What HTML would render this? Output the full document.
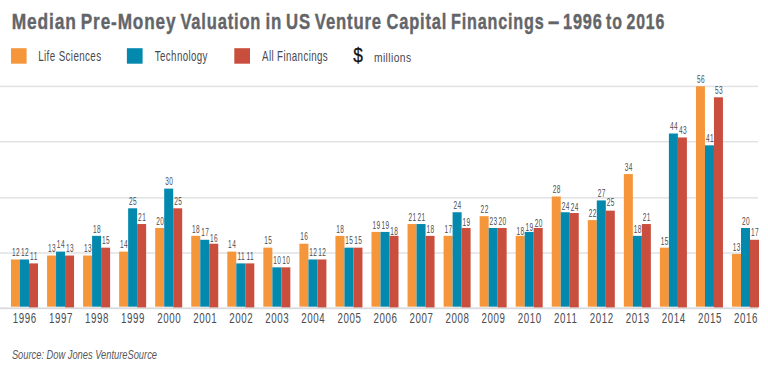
<!DOCTYPE html>
<html><head><meta charset="utf-8"><style>
html,body{margin:0;padding:0;background:#fff;width:768px;height:373px;overflow:hidden}
svg{display:block}
text{font-family:"Liberation Sans",sans-serif}
</style></head><body>
<svg width="768" height="373" viewBox="0 0 768 373">
<g font-weight="bold" fill="#636569" stroke="#636569" stroke-width="0.4" letter-spacing="1.115">
<text x="11.68" y="29.3" font-size="22.3" textLength="65.11" lengthAdjust="spacingAndGlyphs">Median</text>
<text x="80.80" y="29.3" font-size="22.3" textLength="95.57" lengthAdjust="spacingAndGlyphs">Pre-Money</text>
<text x="180.43" y="29.3" font-size="22.3" textLength="80.87" lengthAdjust="spacingAndGlyphs">Valuation</text>
<text x="265.42" y="29.3" font-size="22.3" textLength="16.72" lengthAdjust="spacingAndGlyphs">in</text>
<text x="286.10" y="29.3" font-size="22.3" textLength="24.89" lengthAdjust="spacingAndGlyphs">US</text>
<text x="314.83" y="29.3" font-size="22.3" textLength="67.14" lengthAdjust="spacingAndGlyphs">Venture</text>
<text x="386.44" y="29.3" font-size="22.3" textLength="60.65" lengthAdjust="spacingAndGlyphs">Capital</text>
<text x="451.07" y="29.3" font-size="22.3" textLength="93.46" lengthAdjust="spacingAndGlyphs">Financings</text>
<text x="547.89" y="29.3" font-size="22.3" textLength="12.25" lengthAdjust="spacingAndGlyphs">–</text>
<text x="563.02" y="29.3" font-size="22.3" textLength="39.56" lengthAdjust="spacingAndGlyphs">1996</text>
<text x="606.04" y="29.3" font-size="22.3" textLength="16.66" lengthAdjust="spacingAndGlyphs">to</text>
<text x="626.62" y="29.3" font-size="22.3" textLength="38.42" lengthAdjust="spacingAndGlyphs">2016</text>
</g>
<rect x="11" y="48.2" width="15.6" height="15.5" fill="#f6963b"/>
<rect x="126.9" y="48.2" width="15.7" height="15.5" fill="#0388ae"/>
<rect x="234.3" y="48.2" width="15.7" height="15.5" fill="#ca4e3e"/>
<g fill="#46494f" letter-spacing="0.556"><text x="38.22" y="61" font-size="13.9" textLength="63.24" lengthAdjust="spacingAndGlyphs">Life Sciences</text></g>
<g fill="#46494f" letter-spacing="0.556"><text x="154.81" y="60.8" font-size="13.9" textLength="53.08" lengthAdjust="spacingAndGlyphs">Technology</text></g>
<g fill="#46494f" letter-spacing="0.556"><text x="262.00" y="60.8" font-size="13.9" textLength="66.13" lengthAdjust="spacingAndGlyphs">All Financings</text></g>
<g fill="#46494f" letter-spacing="0.516"><text x="373.98" y="62.2" font-size="12.9" textLength="37.48" lengthAdjust="spacingAndGlyphs">millions</text></g>
<text x="353.33" y="62.4" font-size="20.5" textLength="9.66" lengthAdjust="spacingAndGlyphs" fill="#111" stroke="#111" stroke-width="0.3">$</text>
<rect x="0" y="85.65" width="758" height="1.5" fill="#e1e2e4"/>
<rect x="0" y="140.95" width="758" height="1.5" fill="#e1e2e4"/>
<rect x="0" y="197.1" width="758" height="1.5" fill="#e1e2e4"/>
<rect x="0" y="252.25" width="758" height="1.5" fill="#e1e2e4"/>
<rect x="0" y="307.4" width="758" height="1.8" fill="#d9dadd"/>
<rect x="11.00" y="259.47" width="9.0" height="47.23" fill="#f6963b"/>
<rect x="20.00" y="259.47" width="9.0" height="47.23" fill="#0388ae"/>
<rect x="29.00" y="263.40" width="9.0" height="44.00" fill="#ca4e3e"/>
<rect x="47.05" y="255.53" width="9.0" height="51.17" fill="#f6963b"/>
<rect x="56.05" y="251.60" width="9.0" height="55.10" fill="#0388ae"/>
<rect x="65.05" y="255.53" width="9.0" height="51.87" fill="#ca4e3e"/>
<rect x="83.10" y="255.53" width="9.0" height="51.17" fill="#f6963b"/>
<rect x="92.10" y="235.85" width="9.0" height="70.85" fill="#0388ae"/>
<rect x="101.10" y="247.66" width="9.0" height="59.74" fill="#ca4e3e"/>
<rect x="119.15" y="251.60" width="9.0" height="55.10" fill="#f6963b"/>
<rect x="128.15" y="208.30" width="9.0" height="98.40" fill="#0388ae"/>
<rect x="137.15" y="224.04" width="9.0" height="83.36" fill="#ca4e3e"/>
<rect x="155.20" y="227.98" width="9.0" height="78.72" fill="#f6963b"/>
<rect x="164.20" y="188.62" width="9.0" height="118.08" fill="#0388ae"/>
<rect x="173.20" y="208.30" width="9.0" height="99.10" fill="#ca4e3e"/>
<rect x="191.25" y="235.85" width="9.0" height="70.85" fill="#f6963b"/>
<rect x="200.25" y="239.79" width="9.0" height="66.91" fill="#0388ae"/>
<rect x="209.25" y="243.72" width="9.0" height="63.68" fill="#ca4e3e"/>
<rect x="227.30" y="251.60" width="9.0" height="55.10" fill="#f6963b"/>
<rect x="236.30" y="263.40" width="9.0" height="43.30" fill="#0388ae"/>
<rect x="245.30" y="263.40" width="9.0" height="44.00" fill="#ca4e3e"/>
<rect x="263.35" y="247.66" width="9.0" height="59.04" fill="#f6963b"/>
<rect x="272.35" y="267.34" width="9.0" height="39.36" fill="#0388ae"/>
<rect x="281.35" y="267.34" width="9.0" height="40.06" fill="#ca4e3e"/>
<rect x="299.40" y="243.72" width="9.0" height="62.98" fill="#f6963b"/>
<rect x="308.40" y="259.47" width="9.0" height="47.23" fill="#0388ae"/>
<rect x="317.40" y="259.47" width="9.0" height="47.93" fill="#ca4e3e"/>
<rect x="335.45" y="235.85" width="9.0" height="70.85" fill="#f6963b"/>
<rect x="344.45" y="247.66" width="9.0" height="59.04" fill="#0388ae"/>
<rect x="353.45" y="247.66" width="9.0" height="59.74" fill="#ca4e3e"/>
<rect x="371.50" y="231.92" width="9.0" height="74.78" fill="#f6963b"/>
<rect x="380.50" y="231.92" width="9.0" height="74.78" fill="#0388ae"/>
<rect x="389.50" y="235.85" width="9.0" height="71.55" fill="#ca4e3e"/>
<rect x="407.55" y="224.04" width="9.0" height="82.66" fill="#f6963b"/>
<rect x="416.55" y="224.04" width="9.0" height="82.66" fill="#0388ae"/>
<rect x="425.55" y="235.85" width="9.0" height="71.55" fill="#ca4e3e"/>
<rect x="443.60" y="235.85" width="9.0" height="70.85" fill="#f6963b"/>
<rect x="452.60" y="212.24" width="9.0" height="94.46" fill="#0388ae"/>
<rect x="461.60" y="227.98" width="9.0" height="79.42" fill="#ca4e3e"/>
<rect x="479.65" y="216.17" width="9.0" height="90.53" fill="#f6963b"/>
<rect x="488.65" y="227.98" width="9.0" height="78.72" fill="#0388ae"/>
<rect x="497.65" y="227.98" width="9.0" height="79.42" fill="#ca4e3e"/>
<rect x="515.70" y="235.85" width="9.0" height="70.85" fill="#f6963b"/>
<rect x="524.70" y="231.92" width="9.0" height="74.78" fill="#0388ae"/>
<rect x="533.70" y="227.98" width="9.0" height="79.42" fill="#ca4e3e"/>
<rect x="551.75" y="196.49" width="9.0" height="110.21" fill="#f6963b"/>
<rect x="560.75" y="212.24" width="9.0" height="94.46" fill="#0388ae"/>
<rect x="569.75" y="213.02" width="9.0" height="94.38" fill="#ca4e3e"/>
<rect x="587.80" y="220.11" width="9.0" height="86.59" fill="#f6963b"/>
<rect x="596.80" y="200.43" width="9.0" height="106.27" fill="#0388ae"/>
<rect x="605.80" y="210.66" width="9.0" height="96.74" fill="#ca4e3e"/>
<rect x="623.85" y="174.06" width="9.0" height="132.64" fill="#f6963b"/>
<rect x="632.85" y="235.85" width="9.0" height="70.85" fill="#0388ae"/>
<rect x="641.85" y="224.04" width="9.0" height="83.36" fill="#ca4e3e"/>
<rect x="659.90" y="247.66" width="9.0" height="59.04" fill="#f6963b"/>
<rect x="668.90" y="133.52" width="9.0" height="173.18" fill="#0388ae"/>
<rect x="677.90" y="137.45" width="9.0" height="169.95" fill="#ca4e3e"/>
<rect x="695.95" y="86.28" width="9.0" height="220.42" fill="#f6963b"/>
<rect x="704.95" y="145.32" width="9.0" height="161.38" fill="#0388ae"/>
<rect x="713.95" y="97.30" width="9.0" height="210.10" fill="#ca4e3e"/>
<rect x="732.00" y="253.96" width="9.0" height="52.74" fill="#f6963b"/>
<rect x="741.00" y="227.98" width="9.0" height="78.72" fill="#0388ae"/>
<rect x="750.00" y="239.79" width="9.0" height="67.61" fill="#ca4e3e"/>
<g font-size="10.5" fill="#4a4d53" letter-spacing="0.630">
<text x="11.88" y="256.17" textLength="8.06" lengthAdjust="spacingAndGlyphs">12</text>
<text x="20.88" y="256.17" textLength="8.06" lengthAdjust="spacingAndGlyphs">12</text>
<text x="30.11" y="260.10" textLength="7.57" lengthAdjust="spacingAndGlyphs">11</text>
<text x="47.89" y="252.23" textLength="8.06" lengthAdjust="spacingAndGlyphs">13</text>
<text x="56.86" y="248.30" textLength="8.06" lengthAdjust="spacingAndGlyphs">14</text>
<text x="65.89" y="252.23" textLength="8.06" lengthAdjust="spacingAndGlyphs">13</text>
<text x="83.94" y="252.23" textLength="8.06" lengthAdjust="spacingAndGlyphs">13</text>
<text x="92.94" y="232.55" textLength="8.06" lengthAdjust="spacingAndGlyphs">18</text>
<text x="101.94" y="244.36" textLength="8.06" lengthAdjust="spacingAndGlyphs">15</text>
<text x="119.96" y="248.30" textLength="8.06" lengthAdjust="spacingAndGlyphs">14</text>
<text x="129.09" y="205.00" textLength="8.06" lengthAdjust="spacingAndGlyphs">25</text>
<text x="138.12" y="220.74" textLength="8.06" lengthAdjust="spacingAndGlyphs">21</text>
<text x="156.14" y="224.68" textLength="8.06" lengthAdjust="spacingAndGlyphs">20</text>
<text x="165.18" y="185.32" textLength="8.06" lengthAdjust="spacingAndGlyphs">30</text>
<text x="174.14" y="205.00" textLength="8.06" lengthAdjust="spacingAndGlyphs">25</text>
<text x="192.09" y="232.55" textLength="8.06" lengthAdjust="spacingAndGlyphs">18</text>
<text x="201.13" y="236.49" textLength="8.06" lengthAdjust="spacingAndGlyphs">17</text>
<text x="210.09" y="241.72" textLength="8.06" lengthAdjust="spacingAndGlyphs">16</text>
<text x="228.11" y="248.30" textLength="8.06" lengthAdjust="spacingAndGlyphs">14</text>
<text x="237.41" y="260.10" textLength="7.57" lengthAdjust="spacingAndGlyphs">11</text>
<text x="246.41" y="260.10" textLength="7.57" lengthAdjust="spacingAndGlyphs">11</text>
<text x="264.19" y="244.36" textLength="8.06" lengthAdjust="spacingAndGlyphs">15</text>
<text x="273.19" y="264.04" textLength="8.06" lengthAdjust="spacingAndGlyphs">10</text>
<text x="282.19" y="264.04" textLength="8.06" lengthAdjust="spacingAndGlyphs">10</text>
<text x="300.24" y="240.42" textLength="8.06" lengthAdjust="spacingAndGlyphs">16</text>
<text x="309.28" y="256.17" textLength="8.06" lengthAdjust="spacingAndGlyphs">12</text>
<text x="318.28" y="256.17" textLength="8.06" lengthAdjust="spacingAndGlyphs">12</text>
<text x="336.29" y="232.55" textLength="8.06" lengthAdjust="spacingAndGlyphs">18</text>
<text x="345.29" y="244.36" textLength="8.06" lengthAdjust="spacingAndGlyphs">15</text>
<text x="354.29" y="244.36" textLength="8.06" lengthAdjust="spacingAndGlyphs">15</text>
<text x="372.38" y="228.62" textLength="8.06" lengthAdjust="spacingAndGlyphs">19</text>
<text x="381.38" y="228.62" textLength="8.06" lengthAdjust="spacingAndGlyphs">19</text>
<text x="390.34" y="234.55" textLength="8.06" lengthAdjust="spacingAndGlyphs">18</text>
<text x="408.52" y="220.74" textLength="8.06" lengthAdjust="spacingAndGlyphs">21</text>
<text x="417.52" y="220.74" textLength="8.06" lengthAdjust="spacingAndGlyphs">21</text>
<text x="426.39" y="232.55" textLength="8.06" lengthAdjust="spacingAndGlyphs">18</text>
<text x="444.48" y="232.55" textLength="8.06" lengthAdjust="spacingAndGlyphs">17</text>
<text x="453.51" y="208.94" textLength="8.06" lengthAdjust="spacingAndGlyphs">24</text>
<text x="462.48" y="226.48" textLength="8.06" lengthAdjust="spacingAndGlyphs">19</text>
<text x="480.62" y="212.87" textLength="8.06" lengthAdjust="spacingAndGlyphs">22</text>
<text x="489.59" y="224.68" textLength="8.06" lengthAdjust="spacingAndGlyphs">23</text>
<text x="498.59" y="224.68" textLength="8.06" lengthAdjust="spacingAndGlyphs">20</text>
<text x="516.54" y="234.65" textLength="8.06" lengthAdjust="spacingAndGlyphs">18</text>
<text x="525.58" y="230.72" textLength="8.06" lengthAdjust="spacingAndGlyphs">19</text>
<text x="534.64" y="226.98" textLength="8.06" lengthAdjust="spacingAndGlyphs">20</text>
<text x="552.69" y="193.19" textLength="8.06" lengthAdjust="spacingAndGlyphs">28</text>
<text x="561.66" y="209.54" textLength="8.06" lengthAdjust="spacingAndGlyphs">24</text>
<text x="570.66" y="210.52" textLength="8.06" lengthAdjust="spacingAndGlyphs">24</text>
<text x="588.77" y="216.81" textLength="8.06" lengthAdjust="spacingAndGlyphs">22</text>
<text x="597.77" y="197.13" textLength="8.06" lengthAdjust="spacingAndGlyphs">27</text>
<text x="606.74" y="206.06" textLength="8.06" lengthAdjust="spacingAndGlyphs">25</text>
<text x="624.79" y="170.76" textLength="8.06" lengthAdjust="spacingAndGlyphs">34</text>
<text x="633.69" y="232.55" textLength="8.06" lengthAdjust="spacingAndGlyphs">18</text>
<text x="642.82" y="220.74" textLength="8.06" lengthAdjust="spacingAndGlyphs">21</text>
<text x="660.74" y="245.16" textLength="8.06" lengthAdjust="spacingAndGlyphs">15</text>
<text x="669.91" y="130.22" textLength="8.06" lengthAdjust="spacingAndGlyphs">44</text>
<text x="678.94" y="134.15" textLength="8.06" lengthAdjust="spacingAndGlyphs">43</text>
<text x="696.92" y="82.98" textLength="8.06" lengthAdjust="spacingAndGlyphs">56</text>
<text x="706.02" y="142.02" textLength="8.06" lengthAdjust="spacingAndGlyphs">41</text>
<text x="714.92" y="94.00" textLength="8.06" lengthAdjust="spacingAndGlyphs">53</text>
<text x="732.84" y="250.66" textLength="8.06" lengthAdjust="spacingAndGlyphs">13</text>
<text x="741.94" y="224.68" textLength="8.06" lengthAdjust="spacingAndGlyphs">20</text>
<text x="750.88" y="236.49" textLength="8.06" lengthAdjust="spacingAndGlyphs">17</text>
</g>
<g font-size="14.5" fill="#4a4d52" letter-spacing="0.870">
<text x="12.82" y="322.60" textLength="24.00" lengthAdjust="spacingAndGlyphs">1996</text>
<text x="48.92" y="322.60" textLength="24.00" lengthAdjust="spacingAndGlyphs">1997</text>
<text x="84.92" y="322.60" textLength="24.00" lengthAdjust="spacingAndGlyphs">1998</text>
<text x="120.97" y="322.60" textLength="24.00" lengthAdjust="spacingAndGlyphs">1999</text>
<text x="157.17" y="322.60" textLength="24.00" lengthAdjust="spacingAndGlyphs">2000</text>
<text x="193.27" y="322.60" textLength="24.00" lengthAdjust="spacingAndGlyphs">2001</text>
<text x="229.32" y="322.60" textLength="24.00" lengthAdjust="spacingAndGlyphs">2002</text>
<text x="265.32" y="322.60" textLength="24.00" lengthAdjust="spacingAndGlyphs">2003</text>
<text x="301.32" y="322.60" textLength="24.00" lengthAdjust="spacingAndGlyphs">2004</text>
<text x="337.42" y="322.60" textLength="24.00" lengthAdjust="spacingAndGlyphs">2005</text>
<text x="373.47" y="322.60" textLength="24.00" lengthAdjust="spacingAndGlyphs">2006</text>
<text x="409.57" y="322.60" textLength="24.00" lengthAdjust="spacingAndGlyphs">2007</text>
<text x="445.57" y="322.60" textLength="24.00" lengthAdjust="spacingAndGlyphs">2008</text>
<text x="481.62" y="322.60" textLength="24.00" lengthAdjust="spacingAndGlyphs">2009</text>
<text x="517.67" y="322.60" textLength="24.00" lengthAdjust="spacingAndGlyphs">2010</text>
<text x="554.11" y="322.60" textLength="23.28" lengthAdjust="spacingAndGlyphs">2011</text>
<text x="589.82" y="322.60" textLength="24.00" lengthAdjust="spacingAndGlyphs">2012</text>
<text x="625.82" y="322.60" textLength="24.00" lengthAdjust="spacingAndGlyphs">2013</text>
<text x="661.82" y="322.60" textLength="24.00" lengthAdjust="spacingAndGlyphs">2014</text>
<text x="697.92" y="322.60" textLength="24.00" lengthAdjust="spacingAndGlyphs">2015</text>
<text x="733.97" y="322.60" textLength="24.00" lengthAdjust="spacingAndGlyphs">2016</text>
</g>
<text x="11.92" y="358.8" font-size="12.2" textLength="145.08" lengthAdjust="spacingAndGlyphs" font-style="italic" fill="#55585d">Source: Dow Jones VentureSource</text>
</svg>
</body></html>
